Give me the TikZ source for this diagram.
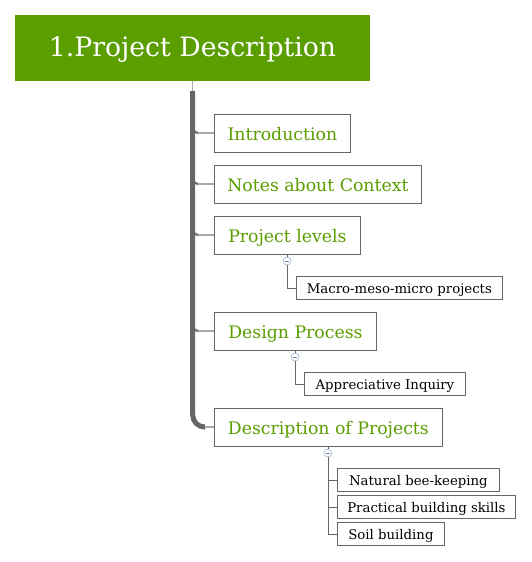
\documentclass[tikz,border=0pt]{standalone}
\usepackage{fontspec}
\setmainfont{DejaVu Serif}
\usetikzlibrary{calc}
\definecolor{mmgreen}{HTML}{5A9E00}
\definecolor{boxline}{HTML}{666666}
\definecolor{spinec}{HTML}{666666}
\definecolor{branchc}{HTML}{AAAAAA}
\definecolor{togglec}{HTML}{A8B8E0}
\begin{document}
\begin{tikzpicture}[x=1pt,y=-1pt,
 rootbox/.style={fill=mmgreen, text=white, font=\fontsize{26.7}{30}\selectfont, text height=17.4pt, text depth=0pt, minimum width=355pt, minimum height=66pt, inner sep=0pt},
 topicbox/.style={draw=boxline, line width=0.8pt, fill=white, text=mmgreen, font=\fontsize{17.3}{20}\selectfont, text height=14pt, text depth=0pt, minimum height=38pt, anchor=west, inner sep=0pt},
 subbox/.style={draw=boxline, line width=0.8pt, fill=white, text=black, font=\fontsize{13.3}{16}\selectfont, text height=11pt, text depth=0pt, minimum height=22.5pt, anchor=west, inner sep=0pt},
 spine/.style={draw=spinec, line width=5pt},
 stub/.style={draw=spinec, line width=2pt, rounded corners=6pt},
 branch/.style={draw=branchc, line width=2pt},
 subline/.style={draw=boxline, line width=0.8pt},
 toggle/.style={circle, draw=togglec, fill=white, line width=0.7pt, minimum size=8pt, inner sep=0pt, path picture={\draw[togglec!70!black, line width=0.6pt] ([xshift=-2pt]path picture bounding box.center) -- ([xshift=2pt]path picture bounding box.center);}}]

\useasboundingbox (0,0) rectangle (532,562);

\node[rootbox] (root) at (192.5,48) {1.Project Description};

\node[topicbox, minimum width=136pt] (intro) at (214,133) {Introduction};
\node[topicbox, minimum width=207pt] (notes) at (214,184) {Notes about Context};
\node[topicbox, minimum width=146pt] (levels) at (214,235) {Project levels};
\node[topicbox, minimum width=162pt] (design) at (214,331) {Design Process};
\node[topicbox, minimum width=228pt] (desc) at (214,427) {Description of Projects};

\node[subbox, minimum width=206pt] (macro) at (296,288) {Macro-meso-micro projects};
\node[subbox, minimum width=161pt] (appr) at (304,384) {Appreciative Inquiry};
\node[subbox, minimum width=162pt] (bee) at (337,480) {Natural bee-keeping};
\node[subbox, minimum width=178pt] (prac) at (337,507) {Practical building skills};
\node[subbox, minimum width=107pt] (soil) at (337,534) {Soil building};

% spine
\coordinate (spinetop) at (192.7,91);
\draw[branch, line width=1.5pt] (root.south -| spinetop) -- (spinetop);
\coordinate (descend) at ($(desc.west)+(-9,0)$);
\draw[spine, rounded corners=12pt] (spinetop) |- (descend);
\draw[branch] (descend) -- (desc.west);

\foreach \t in {intro,notes,levels,design}{
  \coordinate (e\t) at ($(\t.west)+(-16,0)$);
  \draw[stub] ($(spinetop|-\t.west)+(0,-9)$) |- (e\t);
  \draw[branch] (e\t) -- (\t.west);
}

% toggles
\node[toggle] (t1) at (287,261) {};
\node[toggle] (t2) at (295,357) {};
\node[toggle] (t3) at (328,453) {};

\draw[subline] (levels.south -| t1) -- (t1.north);
\draw[subline] (t1.south) |- (macro.west);
\draw[subline] (design.south -| t2) -- (t2.north);
\draw[subline] (t2.south) |- (appr.west);
\draw[subline] (desc.south -| t3) -- (t3.north);
\draw[subline] (t3.south) |- (bee.west);
\draw[subline] (t3.south) |- (prac.west);
\draw[subline] (t3.south) |- (soil.west);
\end{tikzpicture}
\end{document}
